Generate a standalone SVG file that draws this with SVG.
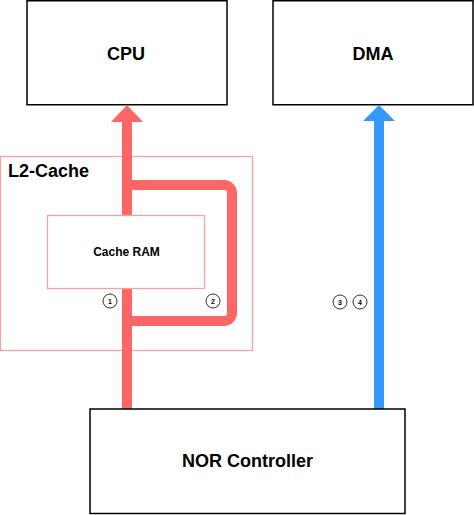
<svg xmlns="http://www.w3.org/2000/svg" width="474" height="515" viewBox="0 0 474 515">
<style>
.box{fill:#fff;stroke:#000;stroke-width:1.5}
.pink{fill:none;stroke:#F4A3A1;stroke-width:1.3}
.t{font-family:"Liberation Sans",Arial,sans-serif;font-weight:bold;fill:#000;text-anchor:middle}
.num{fill:#fff;stroke:#333;stroke-width:1}
.nt{font-family:"Liberation Sans",Arial,sans-serif;font-weight:bold;font-size:7px;fill:#000;text-anchor:middle}
</style>
<rect width="474" height="515" fill="#fff"/>
<g id="l2cache">
<rect class="pink" x="0.5" y="156.5" width="252" height="194"/>
<text class="t" x="8" y="177" font-size="18" style="text-anchor:start">L2-Cache</text>
</g>
<g id="cpu">
<rect class="box" x="27" y="0.75" width="200" height="104"/>
<text class="t" x="126" y="60" font-size="18">CPU</text>
</g>
<g id="dma">
<rect class="box" x="273" y="0.75" width="200" height="104"/>
<text class="t" x="373" y="60" font-size="18">DMA</text>
</g>
<g id="connectors">
<path d="M127 409 V121" stroke="#FF6666" stroke-width="10" fill="none"/>
<polygon points="111,122 127,105 143,122" fill="#FF6666"/>
<path d="M127 185 H224 A8 8 0 0 1 232 193 V313 A8 8 0 0 1 224 321 H127" stroke="#FF6666" stroke-width="10" fill="none"/>
<path d="M379 409 V120" stroke="#3399FF" stroke-width="10" fill="none"/>
<polygon points="363,121 379,105 395,121" fill="#3399FF"/>
</g>
<g id="cacheram">
<rect class="pink" x="47.5" y="215.5" width="157" height="73" style="fill:#fff"/>
<text class="t" x="126.5" y="256" font-size="12">Cache RAM</text>
</g>
<g id="nor">
<rect class="box" x="90" y="409" width="315" height="104.5"/>
<text class="t" x="247.5" y="467" font-size="18">NOR Controller</text>
</g>
<g id="badges">
<circle class="num" cx="110" cy="301" r="7"/><text class="nt" x="110" y="303.5">1</text>
<circle class="num" cx="213" cy="301" r="7"/><text class="nt" x="213" y="303.5">2</text>
<circle class="num" cx="340" cy="302" r="7"/><text class="nt" x="340" y="304.5">3</text>
<circle class="num" cx="360" cy="302" r="7"/><text class="nt" x="360" y="304.5">4</text>
</g>
</svg>
